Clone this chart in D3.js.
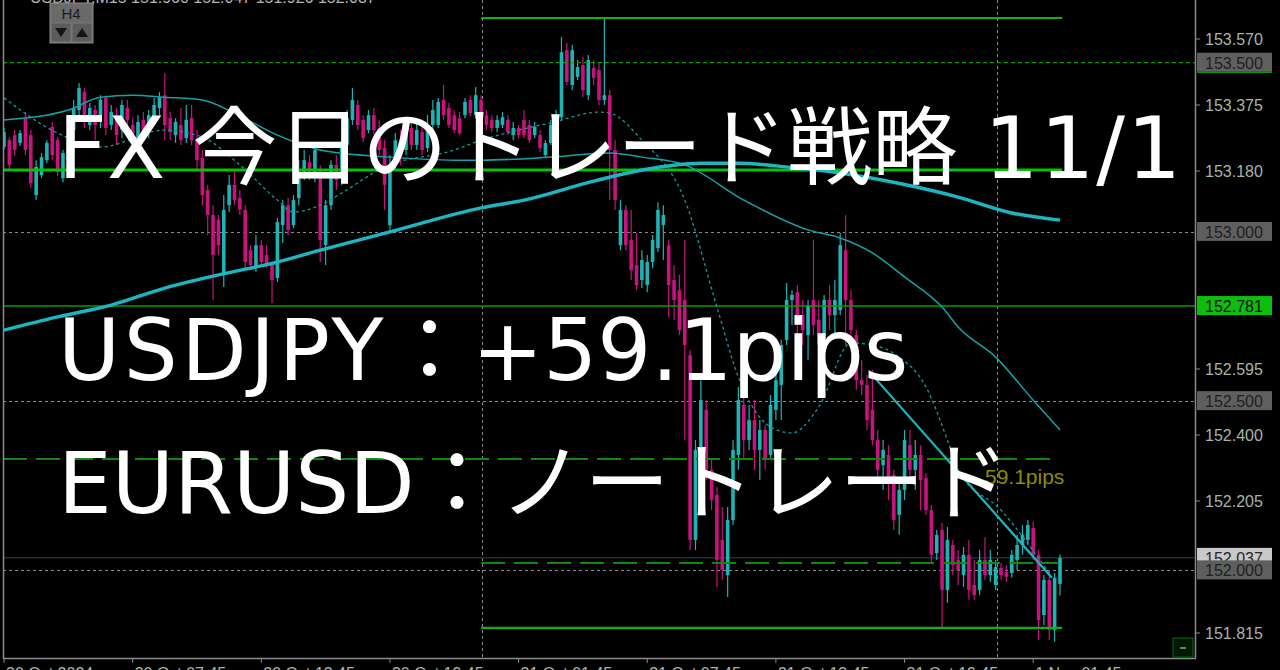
<!DOCTYPE html>
<html><head><meta charset="utf-8">
<script src="https://cdn.jsdelivr.net/npm/d3@7"></script>
<style>
html,body{margin:0;padding:0;background:#000;overflow:hidden}
svg{display:block}
</style></head><body>
<svg id="c" width="1280" height="670"></svg>
<script>
// ---- data (USDJPY M15, 30 Oct 01:45 -> 1 Nov) ----
const ohlc = [
[153.251,153.307,153.242,153.295],[153.271,153.280,153.183,153.198],[153.286,153.301,153.224,153.242],[153.263,153.301,153.254,153.292],
[153.336,153.354,153.227,153.242],[153.286,153.301,153.130,153.144],[153.109,153.212,153.094,153.192],[153.168,153.233,153.159,153.221],
[153.212,153.271,153.203,153.263],[153.310,153.325,153.212,153.227],[153.271,153.280,153.165,153.177],[153.159,153.242,153.147,153.233],
[153.212,153.286,153.198,153.271],[153.301,153.390,153.286,153.366],[153.360,153.440,153.345,153.425],[153.413,153.425,153.307,153.325],
[153.316,153.381,153.301,153.366],[153.360,153.375,153.271,153.316],[153.345,153.404,153.307,153.390],[153.396,153.404,153.286,153.307],
[153.316,153.375,153.301,153.354],[153.345,153.366,153.257,153.286],[153.301,153.390,153.277,153.375],[153.366,153.390,153.307,153.331],
[153.316,153.336,153.242,153.271],[153.277,153.345,153.257,153.325],[153.331,153.354,153.271,153.286],[153.295,153.360,153.277,153.345],
[153.339,153.396,153.325,153.375],[153.366,153.413,153.345,153.398],[153.404,153.469,153.271,153.316],[153.336,153.354,153.271,153.295],
[153.286,153.336,153.263,153.325],[153.316,153.366,153.257,153.271],[153.277,153.375,153.263,153.331],[153.336,153.375,153.257,153.271],
[153.271,153.301,153.183,153.212],[153.218,153.242,153.079,153.109],[153.124,153.139,152.991,153.050],[153.050,153.079,152.799,152.932],
[153.035,153.050,152.932,152.961],[152.873,153.109,152.837,153.065],[153.079,153.168,153.059,153.139],[153.139,153.183,153.079,153.094],
[153.100,153.124,153.050,153.065],[153.065,153.079,152.893,152.911],[152.946,152.961,152.887,152.902],[152.893,152.991,152.882,152.961],
[152.961,152.976,152.902,152.911],[152.932,152.961,152.893,152.902],[152.902,152.911,152.790,152.858],[152.864,153.041,152.852,153.029],
[153.020,153.094,152.967,153.079],[153.079,153.100,152.991,153.006],[153.020,153.109,153.011,153.094],[153.100,153.212,153.079,153.183],
[153.177,153.242,153.153,153.212],[153.206,153.227,153.153,153.168],[153.159,153.257,153.147,153.242],[153.183,153.198,152.911,152.976],
[152.961,153.094,152.902,153.079],[153.079,153.212,153.065,153.198],[153.198,153.227,153.124,153.153],[153.159,153.271,153.139,153.257],
[153.257,153.360,153.242,153.336],[153.331,153.425,153.316,153.390],[153.375,153.390,153.301,153.316],[153.331,153.345,153.266,153.277],
[153.301,153.360,153.292,153.345],[153.345,153.366,153.286,153.301],[153.307,153.331,153.227,153.242],[153.248,153.271,153.065,153.139],
[153.020,153.227,153.000,153.198],[153.198,153.292,153.183,153.271],[153.266,153.301,153.198,153.227],[153.242,153.336,153.227,153.316],
[153.307,153.331,153.242,153.257],[153.257,153.331,153.242,153.301],[153.295,153.316,153.227,153.242],[153.248,153.345,153.236,153.316],
[153.316,153.390,153.301,153.360],[153.316,153.396,153.307,153.384],[153.390,153.434,153.331,153.345],[153.366,153.381,153.307,153.316],
[153.345,153.360,153.292,153.301],[153.336,153.354,153.286,153.292],[153.345,153.396,153.336,153.384],[153.390,153.404,153.342,153.351],
[153.345,153.428,153.336,153.404],[153.390,153.404,153.345,153.354],[153.345,153.360,153.301,153.316],[153.331,153.345,153.295,153.307],
[153.307,153.345,153.295,153.331],[153.316,153.354,153.307,153.339],[153.331,153.345,153.286,153.295],[153.286,153.325,153.271,153.307],
[153.307,153.316,153.277,153.286],[153.331,153.360,153.277,153.286],[153.316,153.331,153.263,153.271],[153.286,153.325,153.277,153.310],
[153.286,153.301,153.236,153.248],[153.227,153.271,153.221,153.263],[153.263,153.331,153.257,153.316],[153.316,153.360,153.301,153.345],
[153.339,153.576,153.331,153.531],[153.537,153.558,153.434,153.443],[153.434,153.552,153.419,153.537],[153.458,153.508,153.449,153.487],
[153.493,153.517,153.398,153.419],[153.404,153.523,153.390,153.508],[153.484,153.508,153.434,153.455],[153.478,153.499,153.375,153.390],
[153.390,153.632,153.375,153.404],[153.404,153.419,153.094,153.242],[153.242,153.271,153.065,153.094],[152.961,153.094,152.946,153.065],
[153.065,153.079,152.946,152.961],[152.976,153.065,152.858,152.887],[152.902,152.997,152.828,152.843],[152.858,152.946,152.834,152.917],
[152.843,152.932,152.822,152.911],[152.911,152.991,152.893,152.976],[152.952,153.088,152.941,153.065],[153.020,153.079,152.917,153.050],
[152.961,152.976,152.749,152.843],[152.858,152.902,152.740,152.799],[152.828,152.873,152.695,152.710],[152.799,152.976,152.385,152.666],
[152.636,152.651,152.060,152.090],[152.090,152.385,152.060,152.356],[152.297,152.562,152.267,152.503],[152.474,152.503,152.267,152.297],
[152.297,152.326,152.178,152.208],[152.223,152.246,151.951,152.031],[152.090,152.187,151.972,152.001],[151.986,152.187,151.921,152.149],
[152.149,152.385,152.134,152.356],[152.341,152.542,152.297,152.503],[152.489,152.518,152.326,152.385],[152.385,152.489,152.356,152.444],
[152.444,152.503,152.297,152.356],[152.356,152.444,152.267,152.415],[152.415,152.430,152.297,152.326],[152.341,152.518,152.326,152.489],
[152.474,152.592,152.444,152.562],[152.548,152.681,152.444,152.666],[152.681,152.849,152.666,152.799],[152.799,152.828,152.725,152.814],
[152.822,152.843,152.695,152.754],[152.754,152.799,152.666,152.710],[152.695,152.799,152.622,152.784],[152.799,152.976,152.695,152.725],
[152.740,152.799,152.636,152.666],[152.666,152.814,152.651,152.799],[152.799,152.843,152.710,152.754],[152.754,152.858,152.695,152.799],
[152.769,152.997,152.754,152.961],[152.946,153.050,152.666,152.799],[152.799,152.828,152.695,152.710],[152.695,152.710,152.533,152.562],
[152.562,152.622,152.518,152.548],[152.548,152.577,152.415,152.444],[152.474,152.592,152.370,152.385],[152.385,152.415,152.267,152.297],
[152.311,152.385,152.238,152.356],[152.341,152.370,152.208,152.267],[152.282,152.297,152.119,152.149],[152.164,152.267,152.105,152.238],
[152.238,152.415,152.208,152.385],[152.370,152.415,152.267,152.297],[152.297,152.385,152.238,152.341],[152.341,152.370,152.178,152.267],
[152.273,152.288,152.164,152.178],[152.178,152.193,152.025,152.046],[152.051,152.119,152.031,152.105],[152.119,152.140,151.833,151.942],
[151.942,152.128,151.904,152.090],[152.075,152.090,151.986,152.016],[152.031,152.060,151.957,152.001],[151.986,152.069,151.951,152.046],
[152.046,152.090,151.913,151.942],[151.957,152.031,151.913,151.927],[151.942,152.060,151.927,152.031],[152.031,152.099,151.972,151.986],
[151.986,152.060,151.966,152.031],[151.957,152.031,151.942,152.010],[152.007,152.022,151.972,151.986],[151.995,152.016,151.966,151.981],
[151.992,152.060,151.978,152.046],[152.031,152.105,152.001,152.075],[152.075,152.134,152.046,152.105],[152.090,152.149,152.075,152.134],
[152.125,152.143,152.031,152.046],[152.046,152.060,151.794,151.853],[151.868,151.986,151.839,151.972],[151.972,152.001,151.794,151.824],
[151.824,151.992,151.789,151.978],[151.960,152.047,151.926,152.037]
];
// moving averages: [bar index, price]
const maLong = [[0,152.710],[10,152.749],[20,152.784],[30,152.834],[40,152.873],[51,152.911],[59,152.946],[72,153.000],[89,153.071],[97,153.094],[110,153.150],[119,153.183],[130,153.203],[137,153.203],[147,153.190],[156,153.174],[168,153.140],[178,153.103],[188,153.056],[197,153.035]];
const maMid = [[0,153.331],[12,153.360],[18,153.398],[24,153.404],[30,153.398],[37,153.390],[43,153.351],[51,153.286],[59,153.242],[72,153.221],[84,153.212],[89,153.212],[102,153.221],[113,153.233],[119,153.221],[127,153.198],[138,153.094],[150,153.006],[156,152.982],[162,152.938],[168,152.867],[175,152.778],[178,152.719],[185,152.630],[192,152.503],[197,152.415]];
const maShort = [[0,153.396],[10,153.292],[18,153.251],[30,153.301],[37,153.280],[44,153.198],[51,153.094],[54,153.059],[59,153.079],[63,153.115],[71,153.192],[84,153.242],[89,153.271],[96,153.301],[102,153.322],[111,153.354],[113,153.351],[119,153.271],[127,153.094],[133,152.778],[137,152.571],[143,152.424],[147,152.406],[152,152.483],[158,152.672],[162,152.666],[167,152.630],[172,152.542],[176,152.385],[178,152.297],[186,152.178],[195,151.992]];
const trendLine = [[162.5,152.568],[195.5,151.978]];
const timeLabels = ["30 Oct 2024","30 Oct 07:45","30 Oct 13:45","30 Oct 19:45","31 Oct 01:45","31 Oct 07:45","31 Oct 13:45","31 Oct 19:45","1 Nov 01:45"];
const timeLabelStep = 24;
const daySeparators = [89, 185];
const priceTicks = [153.570,153.375,153.180,152.595,152.400,152.205,151.815];
const roundLevels = [153.000,152.500,152.000];
const grayBoxLevels = [153.500,153.000,152.500,152.000];
const greenLevel = 152.781;
const bidPrice = 152.037;
const highLine = {price:153.632, from:89, to:197.4};
const dashTop = 153.500;
const thickLevel = 153.183;
const dashMid = {price:152.329, to:196.6};
const dashLow = {price:152.022, from:89, to:196.6};
const lowLine = {price:151.830, from:89, to:197.4};
const pipsLabel = {text:"59.1pips", at:183, price:152.255};
const headerText = "USDJPY,M15  151.960 152.047 151.926 152.037";
const titleLines = [
  [{t:"FX 今日のトレード戦略 ",ls:0},{t:"11/1",ls:2}],
  [{t:"USDJPY",ls:3.5},{t:"：+59.1pips",ls:0}],
  [{t:"EURUSD",ls:0},{t:"：ノートレード",ls:0}]
];

// ---- drawing ----
const svg = d3.select('#c');
const W = 1280, H = 670;
const plotL = 3, plotR = 1195, plotB = 658;
const x = d3.scaleLinear().domain([0,197]).range([4,1060]);
const y = d3.scaleLinear().domain([151.815,153.570]).range([633,39]);

svg.append('rect').attr('width',W).attr('height',H).attr('fill','#000');
svg.append('defs').append('clipPath').attr('id','pc').append('rect')
  .attr('x',plotL).attr('y',0).attr('width',plotR-plotL).attr('height',plotB);
const g = svg.append('g').attr('clip-path','url(#pc)');

// dotted round levels & day separators
g.selectAll('.rl').data(roundLevels).join('line')
  .attr('x1',plotL).attr('x2',plotR).attr('y1',d=>Math.round(y(d))+0.5).attr('y2',d=>Math.round(y(d))+0.5)
  .attr('stroke','#8a8a8a').attr('stroke-dasharray','3,3').attr('stroke-width',1);
g.selectAll('.sep').data(daySeparators).join('line')
  .attr('x1',d=>Math.round(x(d))+1.5).attr('x2',d=>Math.round(x(d))+1.5).attr('y1',0).attr('y2',plotB)
  .attr('stroke','#8a8a8a').attr('stroke-dasharray','3,3').attr('stroke-width',1);

// current bid line
g.append('line').attr('x1',plotL).attr('x2',plotR).attr('y1',y(bidPrice)).attr('y2',y(bidPrice))
  .attr('stroke','#1f2c3c').attr('stroke-width',1.5);

// candles
const bull = '#1db4b4', bear = '#c8137f';
const cg = g.append('g');
cg.selectAll('.wick').data(ohlc).join('line')
  .attr('x1',(d,i)=>x(i)).attr('x2',(d,i)=>x(i))
  .attr('y1',d=>y(d[1])).attr('y2',d=>y(d[2]))
  .attr('stroke',d=>d[3]>=d[0]?bull:bear).attr('stroke-width',1.2);
cg.selectAll('.body').data(ohlc).join('rect')
  .attr('x',(d,i)=>x(i)-1.8).attr('width',3.6)
  .attr('y',d=>y(Math.max(d[0],d[3])))
  .attr('height',d=>Math.max(1,Math.abs(y(d[0])-y(d[3]))))
  .attr('fill',d=>d[3]>=d[0]?bull:bear);

// horizontal objects
function hline(p,x1,x2,color,w,dash){
  const l=g.append('line').attr('x1',x1).attr('x2',x2).attr('y1',y(p)).attr('y2',y(p))
   .attr('stroke',color).attr('stroke-width',w);
  if(dash) l.attr('stroke-dasharray',dash);
}
hline(dashTop,plotL,plotR,'#0a9a0a',1.2,'4,3');
hline(thickLevel,plotL,x(197.4),'#08c008',3);
hline(greenLevel,plotL,plotR,'#0a9a0a',1.5);
hline(highLine.price,x(highLine.from),x(highLine.to),'#10b010',2.2);
hline(lowLine.price,x(lowLine.from),x(lowLine.to),'#10b010',2.2);
hline(dashMid.price,plotL,x(dashMid.to),'#0b8a0b',2,'24,9');
hline(dashLow.price,x(dashLow.from),x(dashLow.to),'#0b8a0b',2,'24,9');

// moving averages
const ln = d3.line().x(d=>x(d[0])).y(d=>y(d[1])).curve(d3.curveMonotoneX);
g.append('path').datum(maShort).attr('d',ln).attr('fill','none').attr('stroke','#169a9a').attr('stroke-width',1.3).attr('stroke-dasharray','3,3');
g.append('path').datum(maMid).attr('d',ln).attr('fill','none').attr('stroke','#15a2a6').attr('stroke-width',1.5);
g.append('path').datum(maLong).attr('d',ln).attr('fill','none').attr('stroke','#1cb6c0').attr('stroke-width',3.4);
g.append('line').attr('x1',x(trendLine[0][0])).attr('y1',y(trendLine[0][1]))
  .attr('x2',x(trendLine[1][0])).attr('y2',y(trendLine[1][1]))
  .attr('stroke','#1cb6c0').attr('stroke-width',2.2);
g.append('text').attr('x',x(pipsLabel.at)).attr('y',y(pipsLabel.price))
  .attr('font-family','Liberation Sans, Arial, sans-serif').attr('font-size',21)
  .attr('fill','#8c8c00').text(pipsLabel.text);

// header & H4 widget
svg.append('text').attr('x',30).attr('y',3).attr('font-family','Liberation Sans, sans-serif')
  .attr('font-size',16).attr('fill','#b4b4b4').text(headerText);
const hw = svg.append('g');
hw.append('rect').attr('x',50).attr('y',3).attr('width',43).attr('height',40).attr('fill','#6a6a6a').attr('stroke','#8a8a8a');
hw.append('rect').attr('x',51).attr('y',23).attr('width',20).attr('height',19).attr('fill','#5c5c5c').attr('stroke','#7a7a7a');
hw.append('rect').attr('x',72).attr('y',23).attr('width',20).attr('height',19).attr('fill','#5c5c5c').attr('stroke','#7a7a7a');
hw.append('text').attr('x',71).attr('y',19).attr('text-anchor','middle').attr('font-family','Liberation Sans, sans-serif').attr('font-size',15).attr('fill','#1c1c1c').text('H4');
hw.append('path').attr('d','M55,28 L67,28 L61,37 Z').attr('fill','#151515');
hw.append('path').attr('d','M76,37 L88,37 L82,28 Z').attr('fill','#151515');

// overlay title texts
const tf = "'DejaVu Sans','Noto Sans CJK JP',sans-serif";
const baselines = [178,380,513];
svg.selectAll('.tt').data(titleLines).join('text')
  .attr('x',58).attr('y',(d,i)=>baselines[i])
  .attr('font-family',tf).attr('font-size',85).attr('fill','#ffffff')
  .each(function(d){
    d3.select(this).selectAll('tspan').data(d).join('tspan')
      .attr('letter-spacing',s=>s.ls).text(s=>s.t);
  });

// right price axis
const ax = svg.append('g');
ax.append('line').attr('x1',plotR+0.5).attr('x2',plotR+0.5).attr('y1',0).attr('y2',plotB).attr('stroke','#8c8c8c').attr('stroke-width',1.5);
ax.selectAll('.tk').data(priceTicks).join('line')
  .attr('x1',plotR).attr('x2',plotR+5).attr('y1',d=>y(d)).attr('y2',d=>y(d)).attr('stroke','#8c8c8c');
ax.selectAll('.tl').data(priceTicks).join('text')
  .attr('x',1205).attr('y',d=>y(d)+6).attr('font-family','Liberation Sans, Arial, sans-serif').attr('font-size',16)
  .attr('fill','#a8b4a8').text(d=>d.toFixed(3));
function box(p,bg,fg){
  ax.append('rect').attr('x',1197).attr('y',y(p)-10).attr('width',75).attr('height',19).attr('fill',bg);
  ax.append('text').attr('x',1205).attr('y',y(p)+6).attr('font-family','Liberation Sans, Arial, sans-serif')
    .attr('font-size',16).attr('fill',fg).text(p.toFixed(3));
}
box(greenLevel,'#0cbf0c','#0a0a0a');
box(bidPrice,'#c9c9c9','#262626');
grayBoxLevels.forEach(p=>box(p,'#5f5f5f','#1e1e1e'));
ax.append('line').attr('x1',1197).attr('x2',1272).attr('y1',y(dashTop)+9.5).attr('y2',y(dashTop)+9.5).attr('stroke','#0a9a0a').attr('stroke-width',1.5);

// bottom time axis
ax.append('line').attr('x1',plotL).attr('x2',plotR+1).attr('y1',plotB+0.5).attr('y2',plotB+0.5).attr('stroke','#8c8c8c').attr('stroke-width',1.5);
ax.append('line').attr('x1',plotL+0.5).attr('x2',plotL+0.5).attr('y1',0).attr('y2',plotB).attr('stroke','#8c8c8c').attr('stroke-width',1.5);
ax.selectAll('.bt').data(timeLabels).join('line')
  .attr('x1',(d,i)=>x(i*timeLabelStep)).attr('x2',(d,i)=>x(i*timeLabelStep)).attr('y1',plotB).attr('y2',plotB+5).attr('stroke','#8c8c8c');
ax.selectAll('.bl').data(timeLabels).join('text')
  .attr('x',(d,i)=>x(i*timeLabelStep)+2).attr('y',plotB+21).attr('font-family','Liberation Sans, Arial, sans-serif')
  .attr('font-size',16).attr('fill','#a8b4a8').text(d=>d);

// small "-" button bottom right
ax.append('rect').attr('x',1173).attr('y',638).attr('width',20).attr('height',19).attr('fill','#001800').attr('stroke','#0a6a0a');
ax.append('line').attr('x1',1180).attr('x2',1186).attr('y1',648).attr('y2',648).attr('stroke','#9a9a9a').attr('stroke-width',1.5);
</script>
</body></html>
